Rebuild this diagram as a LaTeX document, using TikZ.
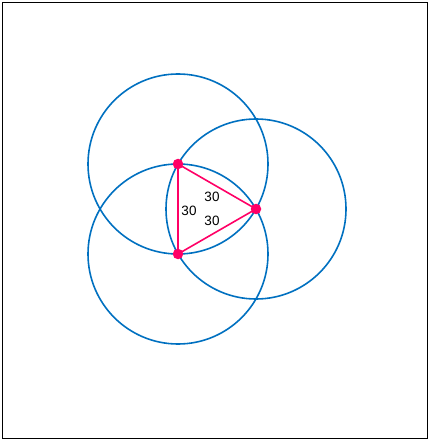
\documentclass[tikz,border=0pt]{standalone}
\usepackage{fontspec}
\setmainfont{Liberation Sans}
\usetikzlibrary{positioning}
\definecolor{circblue}{HTML}{0070C0}
\definecolor{tripink}{HTML}{FF0066}
\tikzset{
  circ/.style={draw=circblue, line width=1.6pt},
  side/.style={draw=tripink, line width=1.6pt},
  dot/.style={circle, fill=tripink, inner sep=0pt, minimum size=10.5pt},
  len/.style={font=\fontsize{13.5}{16}\selectfont, inner sep=1pt},
}
\begin{document}
\begin{tikzpicture}[x=1pt,y=-1pt]
  \useasboundingbox (0,0) rectangle (432,443);
  \draw[line width=1pt] (2.5,2.5) rectangle (427,438);

  \coordinate (a) at (178,164);
  \coordinate (b) at (178,254);
  \coordinate (c) at (256,209);

  \draw[circ] (a) circle[radius=90];
  \draw[circ] (b) circle[radius=90];
  \draw[circ] (c) circle[radius=90];

  \draw[side] (a) -- (b) -- (c) -- cycle;

  \node[dot] (na) at (a) {};
  \node[dot] (nb) at (b) {};
  \node[dot] (nc) at (c) {};

  \node[len] (lab) at (189,211) {30};
  \node[len] (lac) at (212,197) {30};
  \node[len] (lbc) at (212,221) {30};
\end{tikzpicture}
\end{document}
